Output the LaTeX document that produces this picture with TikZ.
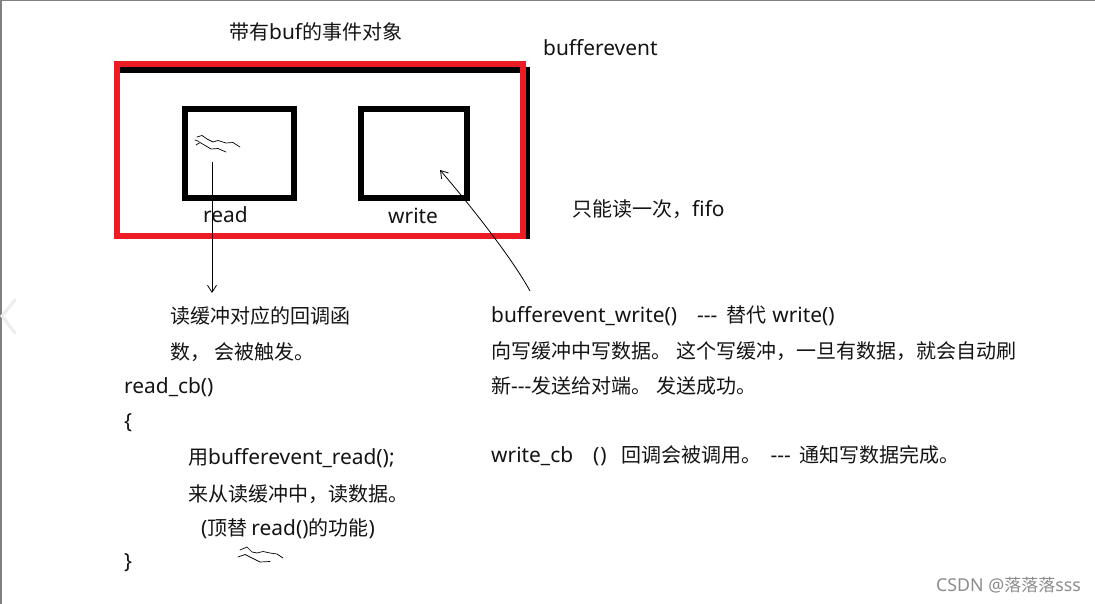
\documentclass[tikz,border=0pt]{standalone}
\usepackage{fontspec}
\setmainfont{Noto Sans CJK SC}
\newfontfamily\latfont[Scale=1.045]{Noto Sans}
\usetikzlibrary{arrows.meta}
\definecolor{boxred}{HTML}{ED1C24}
\definecolor{txt}{HTML}{141414}
\newcommand\lt[1]{{\latfont #1}}
\tikzset{
  txtline/.style={anchor=west, inner sep=0pt, text=txt, font=\fontsize{20}{24}\selectfont},
  boxline/.style={line width=6pt},
  scrib/.style={line width=0.7pt, black, line join=round, line cap=round},
  handarrow/.style={line width=0.8pt, black, -{Straight Barb[length=7pt,width=9pt]}}
}
\begin{document}
\begin{tikzpicture}[x=1pt,y=-1pt]
\useasboundingbox (0,0) rectangle (1095,604);
\fill[white] (0,0) rectangle (1095,604);
% thin grey frame at left/top
\draw[line width=1.5pt, gray] (0.75,604) -- (0.75,0.75) -- (1095,0.75);
% faint chevron
\draw[line width=3pt, black!7, line cap=round] (15,300) -- (2,316) -- (15,333);

% titles
\node[txtline] (title) at (229,32) {带有\lt{buf}的事件对象};
\node[txtline] (bev) at (543,48) {\lt{bufferevent}};

% outer object
\draw[boxline, black] (120,70) -- (527,70) -- (527,239);
\draw[boxline, boxred] (117,64) rectangle (522.5,236);

% inner buffers
\draw[boxline, black] (185,109) rectangle (294,198);
\draw[boxline, black] (361,109) rectangle (467,198);
\node[txtline] (rd) at (203,215) {\lt{read}};
\node[txtline] (wr) at (388,216) {\lt{write}};

% scribble in read buffer
\draw[scrib] (197,137) -- (202,135.5) -- (207,139) -- (213,142) -- (218,140.5) -- (226,143) -- (233,142.5) -- (240,147);
\draw[scrib] (196,145) -- (200,142.5) -- (206,146) -- (211,149) -- (218,148.5) -- (226,152);
\draw[scrib] (195,140) -- (199,141.5);

% arrows
\coordinate (rs) at (212,162);
\coordinate (re) at (212,293);
\draw[handarrow] (rs) -- (re);
\coordinate (ws) at (530,291);
\coordinate (wt) at (440,170);
\draw[handarrow] (ws) .. controls (512,258) and (470,205) .. (wt);

\node[txtline] (fifo) at (572,209) {只能读一次，\lt{fifo}};

% left column
\node[txtline] (l1) at (170,316) {读缓冲对应的回调函};
\node[txtline] (l2) at (170,352) {数， 会被触发。};
\node[txtline] (l3) at (124,387) {\lt{read\_cb()}};
\node[txtline] (l4) at (124,423) {\lt{\{}};
\node[txtline] (l5) at (188,458) {用\lt{bufferevent\_read();}};
\node[txtline] (l6) at (188,494) {来从读缓冲中，读数据。};
\node[txtline] (l7) at (201,529) {\lt{(}顶替\hspace{4pt}\lt{read()}的功能\lt{)}};
\node[txtline] (l8) at (124,563) {\lt{\}}};
% scribble under
\draw[scrib] (240,550) -- (247,547) -- (252,552) -- (257,553) -- (263,551.5) -- (270,553) -- (277,554) -- (283,558);
\draw[scrib] (238,557) -- (245,554.5) -- (252,558) -- (260,562) -- (270,561.5);

% right column
\node[txtline] (r1) at (491,316) {\lt{bufferevent\_write()}\hspace{20pt}\lt{---}\hspace{9pt}替代\hspace{6pt}\lt{write()}};
\node[txtline] (r2) at (491,351) {向写缓冲中写数据。\hspace{5pt}这个写缓冲，一旦有数据，就会自动刷};
\node[txtline] (r3) at (491,386) {新\lt{---}发送给对端。\hspace{5pt}发送成功。};
\node[txtline] (r4) at (491,456) {\lt{write\_cb}\hspace{20pt}\lt{(\hspace{1pt})}\hspace{15pt}回调会被调用。\hspace{9pt}\lt{---}\hspace{9pt}通知写数据完成。};

% watermark
\node[anchor=east, inner sep=0pt, text=black!45, font=\fontsize{17}{20}\selectfont] (wm) at (1081,585) {\lt{CSDN @}落落落\lt{sss}};
\end{tikzpicture}
\end{document}
